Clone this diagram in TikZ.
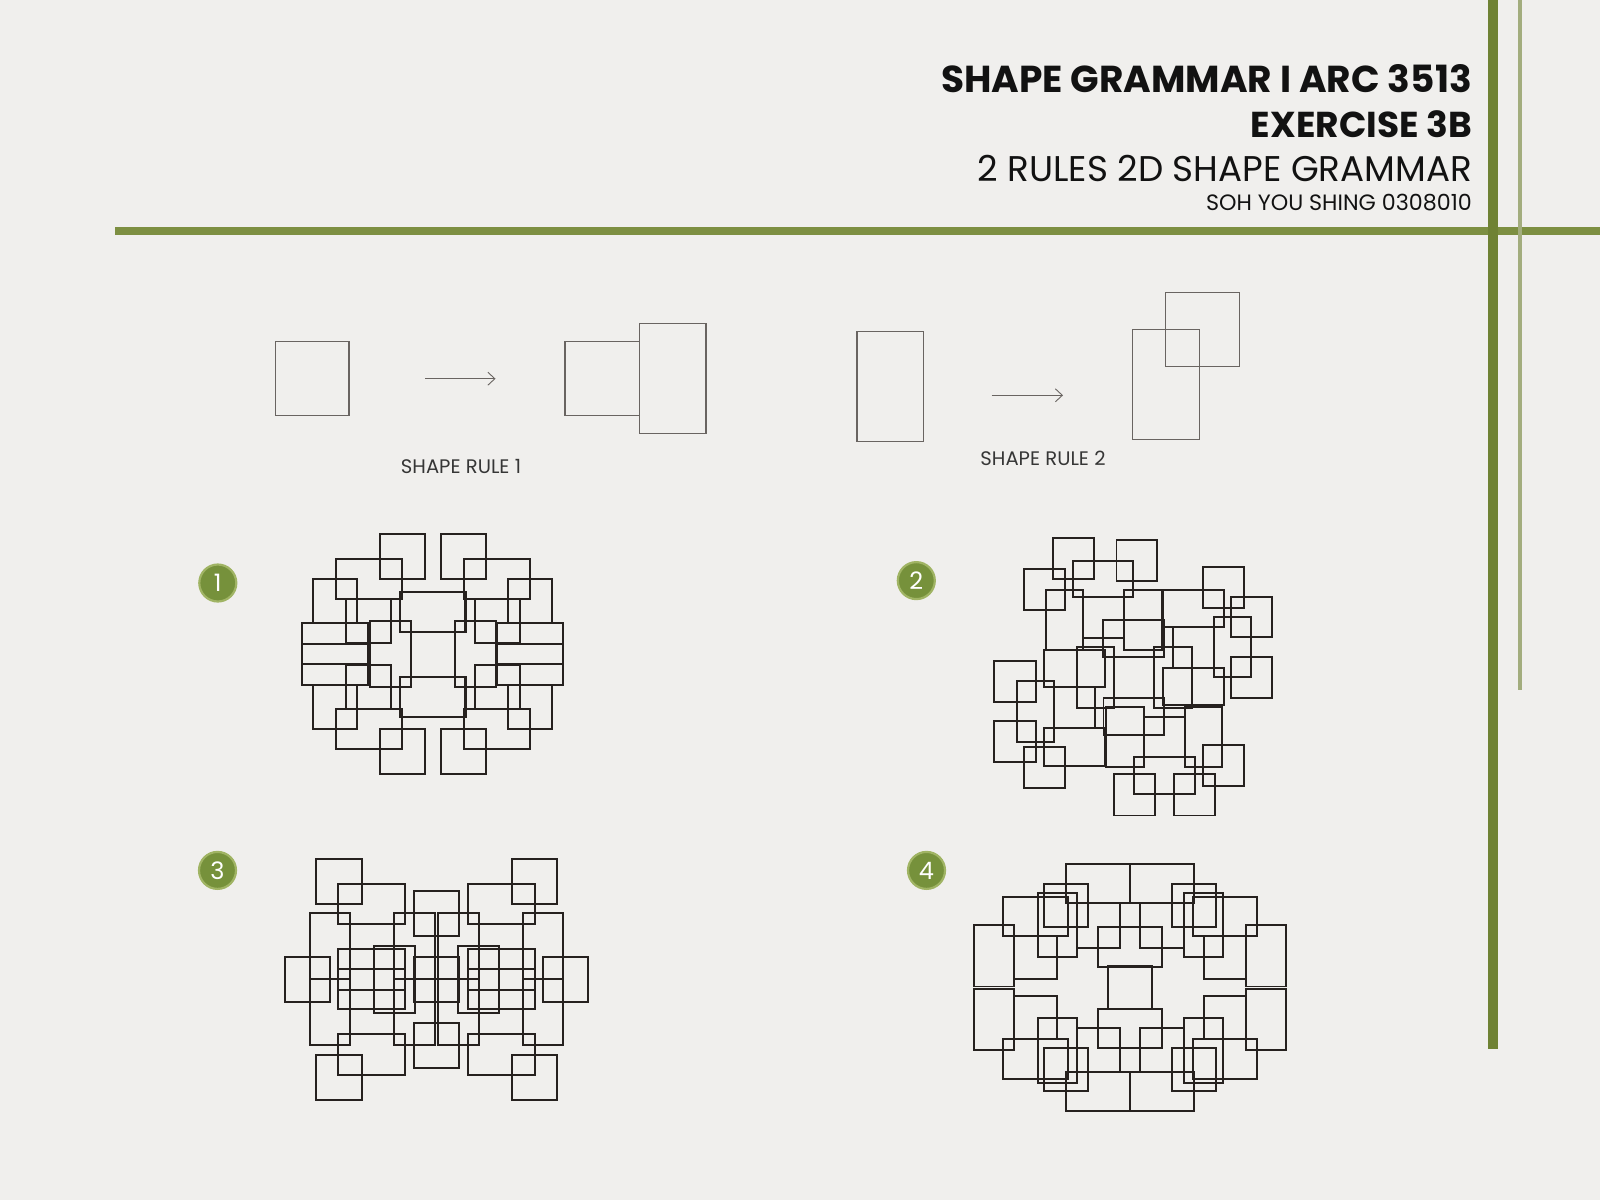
\documentclass[tikz,border=0pt]{standalone}
\usepackage{fontspec}
\setmainfont{Poppins}
\usetikzlibrary{arrows.meta}
\definecolor{bgc}{RGB}{240,239,237}
\definecolor{olive}{RGB}{111,130,52}
\definecolor{oliveh}{RGB}{125,143,66}
\definecolor{olivel}{RGB}{163,173,126}
\definecolor{ink}{RGB}{38,33,31}
\definecolor{rulegray}{RGB}{105,100,97}
\definecolor{circfill}{RGB}{118,145,59}
\definecolor{circring}{RGB}{160,180,100}
\definecolor{txt}{RGB}{18,18,18}
\tikzset{
  pat/.style={draw=ink, line width=1.9pt},
  rulebox/.style={draw=rulegray, line width=1.1pt},
  rulearrow/.style={draw=rulegray, line width=0.9pt, -{Straight Barb[length=7pt,width=13pt]}},
  numcirc/.style={circle, fill=circfill, draw=circring, line width=2.2pt, minimum size=37pt, inner sep=0pt, text=white, font=\fontsize{24}{24}\selectfont},
  ruletext/.style={text=txt!85, font=\fontsize{19.6}{19.6}\selectfont, inner sep=0pt},
  titletext/.style={anchor=base east, inner sep=0pt, text=txt},
}
\newcommand{\PatOneQ}{%
  \draw[pat] (-52.8,-119.8) rectangle (-7.8,-75.2);
  \draw[pat] (-97.2,-95.2) rectangle (-31.2,-55.2);
  \draw[pat] (-119.5,-75.2) rectangle (-75.5,-30.8);
  \draw[pat] (-130.5,-30.8) rectangle (-64.5,9.8);
  \draw[pat] (-86.8,-55.2) rectangle (-42.2,-10.8);
  \draw[pat] (-62.8,-33.2) rectangle (-22.2,32.8);
  \draw[pat] (-32.8,-62.5) rectangle (32.5,-22.5);
}
\newcommand{\PatThreeQ}{%
  \draw[pat] (-120.7,-120.3) rectangle (-75,-75.3);
  \draw[pat] (-98.3,-95.3) rectangle (-31.7,-55);
  \draw[pat] (-22.3,-88.3) rectangle (22.5,-43.7);
  \draw[pat] (-126.7,-66) rectangle (-86.7,66);
  \draw[pat] (-42.3,-66) rectangle (-1.7,66);
  \draw[pat] (-151.7,-22.5) rectangle (-106.7,22.5);
  \draw[pat] (-98.3,-30) rectangle (-31.7,10.7);
  \draw[pat] (-62.3,-33.5) rectangle (-21.7,33.5);
  \draw[pat] (-22.3,-22.5) rectangle (22.5,22.5);
  \draw[pat] (-126.7,0) -- (-86.7,0);
  \draw[pat] (-42.3,0) -- (0,0);
}
\newcommand{\PatFourQ}{%
  \draw[pat] (-64.2,-123.3) rectangle (0,-84.3);
  \draw[pat] (-155.8,-62.7) rectangle (-115.8,-1.2);
  \draw[pat] (-126.8,-91) rectangle (-62.5,-51.7);
  \draw[pat] (-85.8,-103.7) rectangle (-41.8,-60.3);
  \draw[pat] (-92.5,-95) rectangle (-53.5,-30.3);
  \draw[pat] (-115.8,-51.7) rectangle (-73.5,-8.7);
  \draw[pat] (-53.5,-84.3) rectangle (-10.2,-40);
  \draw[pat] (-31.8,-60.3) rectangle (32,-21);
  \draw[pat] (-21.8,-21) rectangle (22,21.3);
}
\begin{document}
\begin{tikzpicture}[x=1pt,y=-1pt]
\useasboundingbox (0,0) rectangle (1600,1200);
\fill[bgc] (0,0) rectangle (1600,1200);

% green frame lines
\fill[oliveh] (115,226.7) rectangle (1600,235);
\fill[olive] (1488,0) rectangle (1498,1049);
\fill[olivel] (1517.5,0) rectangle (1521.5,690);

% title
\node[titletext, font=\bfseries\fontsize{37.5}{37.5}\selectfont] (t1) at (1472,92.7) {SHAPE GRAMMAR I ARC 3513};
\node[titletext, font=\bfseries\fontsize{36}{36}\selectfont] (t2) at (1472,137) {EXERCISE 3B};
\node[titletext, font=\fontsize{35.7}{35.7}\selectfont] (t3) at (1472,181) {2 RULES 2D SHAPE GRAMMAR};
\node[titletext, font=\fontsize{22.2}{22.2}\selectfont] (t4) at (1472,210.7) {SOH YOU SHING 0308010};

% shape rule 1
\draw[rulebox] (275.5,341.7) rectangle (349,415.7);
\coordinate (a1s) at (425.4,378.7);
\coordinate (a1e) at (495.5,378.7);
\draw[rulearrow] (a1s) -- (a1e);
\draw[rulebox] (565,341.7) rectangle (639.7,415.7);
\draw[rulebox] (639.7,323.3) rectangle (706,433.3);
\node[ruletext, anchor=base] (l1) at (461,473.3) {SHAPE RULE 1};

% shape rule 2
\draw[rulebox] (857,331.3) rectangle (923.5,441.7);
\coordinate (a2s) at (991.7,395.3);
\coordinate (a2e) at (1063,395.3);
\draw[rulearrow] (a2s) -- (a2e);
\draw[rulebox] (1132.7,329.3) rectangle (1199.6,439.3);
\draw[rulebox] (1165.8,292.3) rectangle (1239.8,366.7);
\node[ruletext, anchor=base] (l2) at (1043,465) {SHAPE RULE 2};

% number circles
\node[numcirc] (c1) at (217.8,583) {1};
\node[numcirc] (c2) at (916.3,580.6) {2};
\node[numcirc] (c3) at (217.5,870.4) {3};
\node[numcirc] (c4) at (926.5,870.4) {4};

% pattern 1
\begin{scope}[shift={(432.8,654.2)}]
  \foreach \sx/\sy in {1/1,-1/1,1/-1,-1/-1}{
    \begin{scope}[xscale=\sx,yscale=\sy]\PatOneQ\end{scope}
  }
\end{scope}

% pattern 3
\begin{scope}[shift={(436.7,979.3)}]
  \foreach \sx/\sy in {1/1,-1/1,1/-1,-1/-1}{
    \begin{scope}[xscale=\sx,yscale=\sy]\PatThreeQ\end{scope}
  }
\end{scope}

% pattern 4
\begin{scope}[shift={(1130.2,987.7)}]
  \foreach \sx/\sy in {1/1,-1/1,1/-1,-1/-1}{
    \begin{scope}[xscale=\sx,yscale=\sy]\PatFourQ\end{scope}
  }
\end{scope}

% pattern 2
\foreach \xa/\ya/\xb/\yb in {
  1052.7/538.3/1093.7/579.3, 1116.5/540.3/1157.3/581, 1073.3/560.7/1133.3/597.3,
  1024/569.3/1064.7/610, 1046/590/1083.3/650, 1124.3/590/1161.7/650,
  1163/590/1224.3/626.7, 1203.3/567.3/1244.3/608.3, 1230.7/596.7/1271.7/637.3,
  1214.3/617/1251.3/677, 1230.7/657.3/1271.7/698.3, 1103.3/620/1164/656.7,
  1083.3/597.3/1124.3/638.3, 1044.3/650/1105/686.7, 1076.7/647.3/1114.2/708.3,
  1054.3/686.7/1095/728.3, 1154.3/647/1191.7/707.7, 1163/668/1224.3/705,
  1173.3/626.7/1214.3/668, 994.3/660.7/1036/702.3, 1017.3/681/1054.3/742.3,
  994.3/721/1036/762.3, 1024/746.7/1064.7/787.7, 1044.3/728.3/1105/765.7,
  1103.5/698.3/1164.2/735, 1106.3/706.7/1144.3/767.3, 1144.3/716.7/1184.7/757.3,
  1185/706.7/1222.3/767.3, 1134.2/757.3/1194.7/794.3, 1203.3/745/1244.3/785.8,
  1114/774/1155/815.5, 1174.2/774/1215.2/815.5}{
  \draw[pat] (\xa,\ya) rectangle (\xb,\yb);
}
\end{tikzpicture}
\end{document}
